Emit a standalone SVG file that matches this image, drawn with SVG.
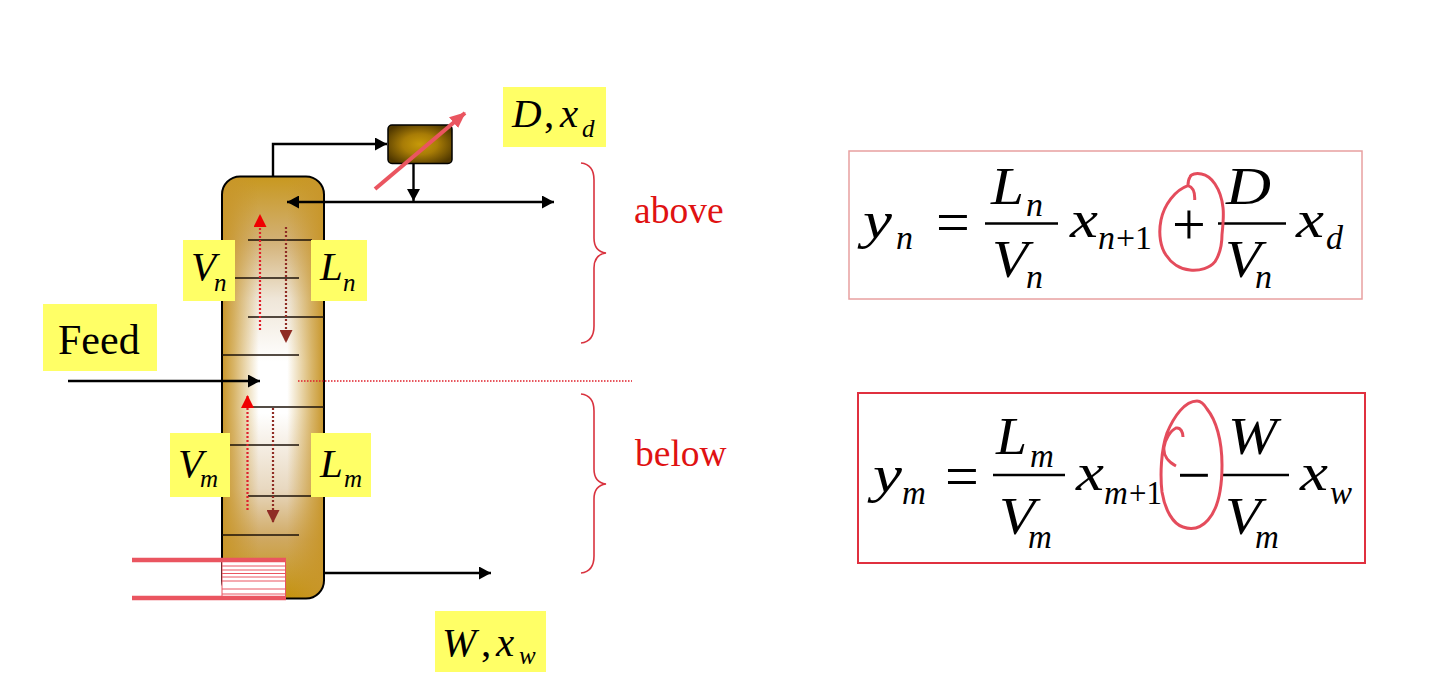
<svg xmlns="http://www.w3.org/2000/svg" width="1431" height="693" viewBox="0 0 1431 693">
<style>
text{font-family:"Liberation Serif","Times New Roman",serif;fill:#000}
.i{font-style:italic}
.l{font-size:41px}.ls{font-size:25px;font-style:italic}
.e{font-size:52px;font-style:italic}.es{font-size:33px;font-style:italic}.eu{font-size:60px}
.red{font-size:37.500px;fill:#e01212}
.y{fill:#ffff66}
.k{stroke:#000;stroke-width:2.400;fill:none}
.t{stroke:#1c1208;stroke-width:1.600;fill:none}
.p{stroke:#ea5560;fill:none}
.b{stroke:#d9333f;stroke-width:1.600;fill:none}
.d1{stroke:#e01f2a;stroke-width:2.200;stroke-dasharray:2 2;fill:none}
.d2{stroke:#8f2c24;stroke-width:2.200;stroke-dasharray:2 2;fill:none}
.bar{stroke:#000;stroke-width:2.400}
.c{stroke:#e44c5c;stroke-width:3;fill:none}
</style>
<defs>
<linearGradient id="colv" x1="0" y1="0" x2="0" y2="1">
<stop offset="0" stop-color="#c8981f"/><stop offset="0.15" stop-color="#d2b074"/><stop offset="0.29" stop-color="#efe6d8"/><stop offset="0.44" stop-color="#fff"/><stop offset="0.56" stop-color="#fff"/><stop offset="0.74" stop-color="#e8d8c0"/><stop offset="0.86" stop-color="#cfa860"/><stop offset="1" stop-color="#c4920c"/>
</linearGradient>
<linearGradient id="colh" x1="0" y1="0" x2="1" y2="0">
<stop offset="0" stop-color="#c8962a"/><stop offset="0.12" stop-color="#c8962a" stop-opacity="0.7"/><stop offset="0.36" stop-color="#c8962a" stop-opacity="0"/><stop offset="0.64" stop-color="#c8962a" stop-opacity="0"/><stop offset="0.88" stop-color="#c8962a" stop-opacity="0.7"/><stop offset="1" stop-color="#c8962a"/>
</linearGradient>
<radialGradient id="cond" cx="0.5" cy="0.5" r="0.6">
<stop offset="0" stop-color="#c79a08"/><stop offset="0.45" stop-color="#a87c06"/><stop offset="1" stop-color="#503800"/>
</radialGradient>
<marker id="ab" markerUnits="userSpaceOnUse" markerWidth="12" markerHeight="13" refX="12" refY="6.500" orient="auto"><path d="M0 0L12 6.500L0 13Z" fill="#000"/></marker>
<marker id="ar" markerUnits="userSpaceOnUse" markerWidth="13" markerHeight="13" refX="13" refY="6.500" orient="auto"><path d="M0 0L13 6.500L0 13Z" fill="#f00000"/></marker>
<marker id="ad" markerUnits="userSpaceOnUse" markerWidth="13" markerHeight="13" refX="13" refY="6.500" orient="auto"><path d="M0 0L13 6.500L0 13Z" fill="#8f2c24"/></marker>
<marker id="ap" markerUnits="userSpaceOnUse" markerWidth="16" markerHeight="14" refX="15" refY="7" orient="auto"><path d="M0 0L16 7L0 14Z" fill="#ea5560"/></marker>
</defs>
<rect width="1431" height="693" fill="#fff"/>

<g id="column">
<rect x="222" y="176.500" width="102" height="422" rx="18" fill="url(#colv)"/>
<rect x="222" y="176.500" width="102" height="422" rx="18" fill="url(#colh)" stroke="#000" stroke-width="2"/>
<path class="t" d="M248 240H312M235 278H299M248 317H324M222 355H299M248 407H324M222 445H299M248 496H324M222 535H299"/>
</g>
<g id="condenser"><rect x="388" y="125" width="64" height="38.500" rx="4" fill="url(#cond)" stroke="#000" stroke-width="1.500"/></g>

<g id="connectors">
<path class="k" d="M273 176V144H387" marker-end="url(#ab)"/>
<path class="k" d="M413.500 163V201" marker-end="url(#ab)"/>
<path class="k" d="M414 202H554" marker-end="url(#ab)"/>
<path class="k" d="M414 202H287" marker-end="url(#ab)"/>
<path class="k" d="M68 381H260" marker-end="url(#ab)"/>
<path class="k" d="M325 573H491" marker-end="url(#ab)"/>
<path class="d1" d="M260 330V214" marker-end="url(#ar)"/>
<path class="d2" d="M286 227V343" marker-end="url(#ad)"/>
<path class="d1" d="M247.500 510V395" marker-end="url(#ar)"/>
<path class="d2" d="M273 408V523" marker-end="url(#ad)"/>
<path d="M298 381H632" stroke="#e01f2a" stroke-width="1.500" stroke-dasharray="1.500 1.500" fill="none"/>
<path class="p" stroke-width="4" d="M375 189L465 113" marker-end="url(#ap)"/>
</g>

<g id="reboiler">
<rect x="222" y="560" width="64" height="38" fill="#fff"/>
<path stroke="#ea5560" stroke-width="1" fill="none" d="M222 560V598M285.500 560V598M222 566H285M222 570H285M222 573.500H285M222 577H285M222 581H285M222 589H285M222 594H285"/>
<path class="p" stroke-width="4.500" d="M132 560H286M132 598H286"/>
</g>

<g id="label-Vn"><rect class="y" x="183" y="240" width="52" height="61"/><text class="l i" x="191" y="280">V</text><text class="ls" x="214" y="291">n</text></g>
<g id="label-Ln"><rect class="y" x="311" y="240" width="56" height="61"/><text class="l i" x="320" y="280">L</text><text class="ls" x="343" y="291">n</text></g>
<g id="label-D"><rect class="y" x="503" y="87" width="103" height="60"/><text class="l i" x="512" y="127">D</text><text class="l" x="544" y="127">,</text><text class="l i" x="560" y="127">x</text><text class="ls" x="582" y="137">d</text></g>
<g id="label-feed"><rect class="y" x="43" y="304" width="114" height="67"/><text x="58" y="354" font-size="42">Feed</text></g>
<g id="label-Vm"><rect class="y" x="170" y="433" width="60" height="64"/><text class="l i" x="178" y="477">V</text><text class="ls" x="200" y="487">m</text></g>
<g id="label-Lm"><rect class="y" x="311" y="433" width="60" height="64"/><text class="l i" x="320" y="477">L</text><text class="ls" x="344" y="487">m</text></g>
<g id="label-W"><rect class="y" x="435" y="611" width="111" height="61"/><text class="l i" x="442" y="656">W</text><text class="l" x="481" y="656">,</text><text class="l i" x="496" y="656">x</text><text class="ls" x="519" y="664">w</text></g>

<g id="brace-above"><path class="b" d="M581 163C590 164 594 170 594 180V238C594 247 598 252 606 253C598 254 594 259 594 268V326C594 336 590 342 581 343"/><text class="red" x="634" y="223">above</text></g>
<g id="brace-below"><path class="b" d="M581 394C590 395 594 401 594 411V469C594 478 598 483 606 484C598 485 594 490 594 499V556C594 566 590 572 581 573"/><text class="red" x="635" y="466">below</text></g>

<g id="equation-above">
<rect x="849" y="151" width="513" height="148" fill="#fff" stroke="#e8a0a0" stroke-width="1.500"/>
<text class="e" x="863" y="238" textLength="29" lengthAdjust="spacingAndGlyphs">y</text><text class="es" x="896" y="249" textLength="17" lengthAdjust="spacingAndGlyphs">n</text>
<text class="eu" x="936" y="242">=</text>
<path class="bar" d="M985 223.500H1058M1218 223.500H1286"/>
<text class="e" x="991" y="204" textLength="33" lengthAdjust="spacingAndGlyphs">L</text><text class="es" x="1026" y="216" textLength="17" lengthAdjust="spacingAndGlyphs">n</text>
<text class="e" x="992" y="277" textLength="36" lengthAdjust="spacingAndGlyphs">V</text><text class="es" x="1026" y="288" textLength="17" lengthAdjust="spacingAndGlyphs">n</text>
<text class="e" x="1070" y="237" textLength="28" lengthAdjust="spacingAndGlyphs">x</text><text class="es" x="1098" y="249" textLength="17" lengthAdjust="spacingAndGlyphs">n</text><text x="1116" y="249" font-size="33" textLength="36" lengthAdjust="spacingAndGlyphs">+1</text>
<text class="eu" x="1172" y="244">+</text>
<text class="e" x="1226" y="204" textLength="45" lengthAdjust="spacingAndGlyphs">D</text>
<text class="e" x="1225" y="277" textLength="36" lengthAdjust="spacingAndGlyphs">V</text><text class="es" x="1255" y="288" textLength="17" lengthAdjust="spacingAndGlyphs">n</text>
<text class="e" x="1296" y="237" textLength="28" lengthAdjust="spacingAndGlyphs">x</text><text class="es" x="1326" y="249" textLength="17" lengthAdjust="spacingAndGlyphs">d</text>
<path class="c" d="M1194.700 200C1195 193 1193 187 1188 185.600C1175 190 1164 205 1161 220C1158 235 1161 248 1166 255C1171 263 1180 269 1190 270C1200 271 1210 268 1215 261.600C1220 254 1222 245 1222 234.600C1223 225 1224 216 1223 207.600C1222 198 1219 190 1215 184C1211 178 1207 175 1201.500 174C1196 173 1191 174 1190 177C1188 180 1188 183 1188 185.600"/>
</g>

<g id="equation-below">
<rect x="858" y="393" width="507" height="170" fill="#fff" stroke="#e0303f" stroke-width="2"/>
<text class="e" x="873" y="492" textLength="29" lengthAdjust="spacingAndGlyphs">y</text><text class="es" x="902" y="504">m</text>
<text class="eu" x="945" y="496">=</text>
<path class="bar" d="M993 475H1065M1223 475H1289"/>
<text class="e" x="996" y="454" textLength="31" lengthAdjust="spacingAndGlyphs">L</text><text class="es" x="1030" y="467">m</text>
<text class="e" x="999" y="534" textLength="36" lengthAdjust="spacingAndGlyphs">V</text><text class="es" x="1028" y="548">m</text>
<text class="e" x="1076" y="490" textLength="28" lengthAdjust="spacingAndGlyphs">x</text><text class="es" x="1104" y="504">m</text><text x="1129" y="504" font-size="33" textLength="33" lengthAdjust="spacingAndGlyphs">+1</text>
<text class="eu" x="1177" y="495">−</text>
<text class="e" x="1228" y="454" textLength="49" lengthAdjust="spacingAndGlyphs">W</text>
<text class="e" x="1225" y="534" textLength="36" lengthAdjust="spacingAndGlyphs">V</text><text class="es" x="1255" y="548">m</text>
<text class="e" x="1300" y="490" textLength="28" lengthAdjust="spacingAndGlyphs">x</text><text class="es" x="1330" y="504">w</text>
<path class="c" d="M1176 466C1168 462 1163 455 1164 447C1165 440 1170 431 1176 428C1181 427 1183 433 1183 437M1197 401C1185 401 1174 416 1167 433C1161 450 1160 475 1162 492C1165 510 1173 524 1183 527C1192 530 1201 528 1208 520C1217 510 1222 490 1222 465C1222 440 1216 420 1207 409C1204 404 1201 401 1197 401Z"/>
</g>
</svg>
